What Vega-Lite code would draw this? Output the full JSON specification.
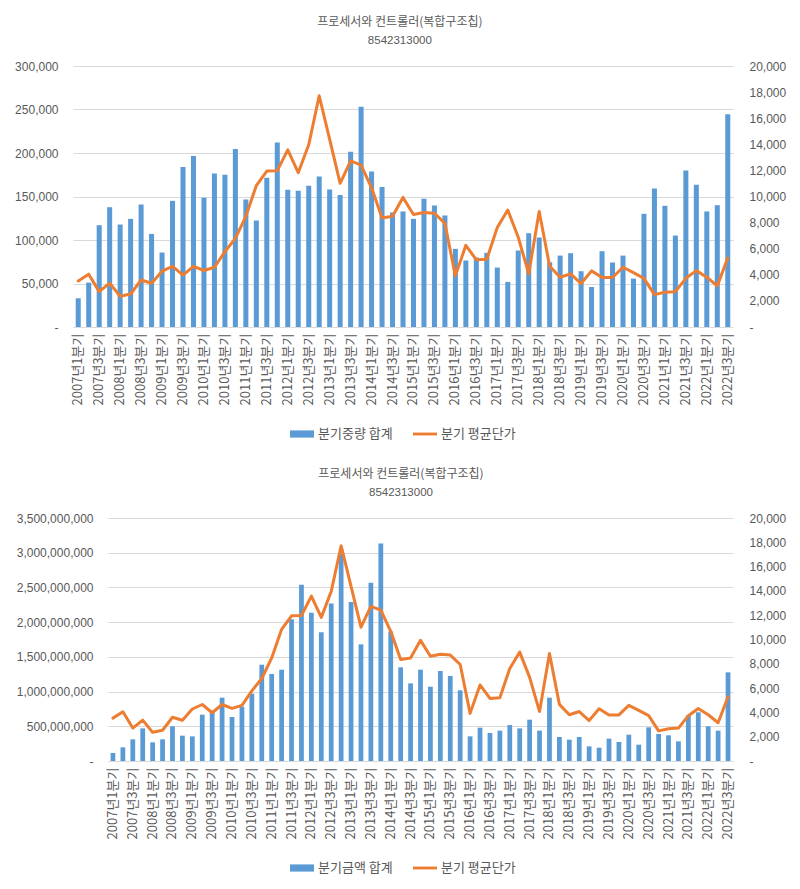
{
  "$schema": "https://vega.github.io/schema/vega-lite/v6.json",
  "background": "white",
  "padding": {"left": 14, "top": 15, "right": 10, "bottom": 5},
  "config": {
    "view": {"stroke": null},
    "font": "Noto Sans CJK KR",
    "axis": {
      "labelColor": "#595959",
      "labelFont": "Liberation Sans",
      "labelFontSize": 12,
      "ticks": false,
      "domain": false,
      "title": null,
      "gridColor": "#D9D9D9",
      "gridWidth": 1
    },
    "title": {
      "anchor": "middle",
      "frame": "bounds",
      "font": "Noto Sans CJK KR",
      "fontSize": 12,
      "fontWeight": "normal",
      "color": "#595959",
      "subtitleFont": "Liberation Sans",
      "subtitleFontSize": 11.5,
      "subtitleColor": "#595959",
      "subtitlePadding": 6,
      "offset": 13
    },
    "legend": {
      "orient": "bottom",
      "direction": "horizontal",
      "title": null,
      "labelFont": "Noto Sans CJK KR",
      "labelFontSize": 13,
      "labelColor": "#595959",
      "symbolSize": 576,
      "labelOffset": 4,
      "columnPadding": 20,
      "offset": 17,
      "layout": {"bottom": {"anchor": "middle"}}
    }
  },
  "datasets": {
    "q": [
      {"quarter": "2007년1분기", "weight": 33000, "amount": 115000000, "price": 3530},
      {"quarter": "2007년2분기", "weight": 51000, "amount": 197000000, "price": 4050},
      {"quarter": "2007년3분기", "weight": 117000, "amount": 312000000, "price": 2710},
      {"quarter": "2007년4분기", "weight": 137700, "amount": 470000000, "price": 3360},
      {"quarter": "2008년1분기", "weight": 117800, "amount": 269000000, "price": 2360},
      {"quarter": "2008년2분기", "weight": 124300, "amount": 312000000, "price": 2530},
      {"quarter": "2008년3분기", "weight": 140800, "amount": 499000000, "price": 3600},
      {"quarter": "2008년4분기", "weight": 107000, "amount": 365000000, "price": 3350},
      {"quarter": "2009년1분기", "weight": 85600, "amount": 355000000, "price": 4280},
      {"quarter": "2009년2분기", "weight": 145000, "amount": 667000000, "price": 4650},
      {"quarter": "2009년3분기", "weight": 183800, "amount": 725000000, "price": 3970},
      {"quarter": "2009년4분기", "weight": 196500, "amount": 912000000, "price": 4650},
      {"quarter": "2010년1분기", "weight": 148500, "amount": 634000000, "price": 4330},
      {"quarter": "2010년2분기", "weight": 176500, "amount": 782000000, "price": 4580},
      {"quarter": "2010년3분기", "weight": 175000, "amount": 970000000, "price": 5770},
      {"quarter": "2010년4분기", "weight": 204500, "amount": 1387000000, "price": 6790},
      {"quarter": "2011년1분기", "weight": 146600, "amount": 1253000000, "price": 8480},
      {"quarter": "2011년2분기", "weight": 122400, "amount": 1315000000, "price": 10840},
      {"quarter": "2011년3분기", "weight": 171500, "amount": 2040000000, "price": 11950},
      {"quarter": "2011년4분기", "weight": 212200, "amount": 2539000000, "price": 11980},
      {"quarter": "2012년1분기", "weight": 157700, "amount": 2136000000, "price": 13570},
      {"quarter": "2012년2분기", "weight": 156500, "amount": 1853000000, "price": 11820},
      {"quarter": "2012년3분기", "weight": 162300, "amount": 2270000000, "price": 13960},
      {"quarter": "2012년4분기", "weight": 173000, "amount": 2980000000, "price": 17720},
      {"quarter": "2013년1분기", "weight": 158100, "amount": 2290000000, "price": 14370},
      {"quarter": "2013년2분기", "weight": 151600, "amount": 1680000000, "price": 11010},
      {"quarter": "2013년3분기", "weight": 201400, "amount": 2568000000, "price": 12730},
      {"quarter": "2013년4분기", "weight": 253200, "amount": 3134000000, "price": 12410},
      {"quarter": "2014년1분기", "weight": 178800, "amount": 1867000000, "price": 10670},
      {"quarter": "2014년2분기", "weight": 160800, "amount": 1349000000, "price": 8360},
      {"quarter": "2014년3분기", "weight": 131600, "amount": 1118000000, "price": 8480},
      {"quarter": "2014년4분기", "weight": 132800, "amount": 1315000000, "price": 9930},
      {"quarter": "2015년1분기", "weight": 124300, "amount": 1070000000, "price": 8620},
      {"quarter": "2015년2분기", "weight": 147300, "amount": 1296000000, "price": 8780},
      {"quarter": "2015년3분기", "weight": 139700, "amount": 1224000000, "price": 8720},
      {"quarter": "2015년4분기", "weight": 128200, "amount": 1018000000, "price": 7940},
      {"quarter": "2016년1분기", "weight": 89800, "amount": 355000000, "price": 3920},
      {"quarter": "2016년2분기", "weight": 76400, "amount": 480000000, "price": 6260},
      {"quarter": "2016년3분기", "weight": 79800, "amount": 403000000, "price": 5150},
      {"quarter": "2016년4분기", "weight": 85200, "amount": 437000000, "price": 5200},
      {"quarter": "2017년1분기", "weight": 68300, "amount": 518000000, "price": 7620},
      {"quarter": "2017년2분기", "weight": 51800, "amount": 470000000, "price": 8960},
      {"quarter": "2017년3분기", "weight": 87900, "amount": 595000000, "price": 6880},
      {"quarter": "2017년4분기", "weight": 107800, "amount": 437000000, "price": 4070},
      {"quarter": "2018년1분기", "weight": 102800, "amount": 912000000, "price": 8850},
      {"quarter": "2018년2분기", "weight": 74400, "amount": 346000000, "price": 4660},
      {"quarter": "2018년3분기", "weight": 82100, "amount": 307000000, "price": 3810},
      {"quarter": "2018년4분기", "weight": 84800, "amount": 346000000, "price": 4070},
      {"quarter": "2019년1분기", "weight": 64100, "amount": 211000000, "price": 3330},
      {"quarter": "2019년2분기", "weight": 46000, "amount": 192000000, "price": 4300},
      {"quarter": "2019년3분기", "weight": 87100, "amount": 322000000, "price": 3790},
      {"quarter": "2019년4분기", "weight": 74100, "amount": 274000000, "price": 3790},
      {"quarter": "2020년1분기", "weight": 82100, "amount": 379000000, "price": 4580},
      {"quarter": "2020년2분기", "weight": 55600, "amount": 235000000, "price": 4170},
      {"quarter": "2020년3분기", "weight": 130100, "amount": 485000000, "price": 3730},
      {"quarter": "2020년4분기", "weight": 159200, "amount": 389000000, "price": 2480},
      {"quarter": "2021년1분기", "weight": 139300, "amount": 370000000, "price": 2660},
      {"quarter": "2021년2분기", "weight": 105100, "amount": 283000000, "price": 2710},
      {"quarter": "2021년3분기", "weight": 180000, "amount": 658000000, "price": 3730},
      {"quarter": "2021년4분기", "weight": 163500, "amount": 701000000, "price": 4320},
      {"quarter": "2022년1분기", "weight": 132800, "amount": 499000000, "price": 3810},
      {"quarter": "2022년2분기", "weight": 140000, "amount": 437000000, "price": 3150},
      {"quarter": "2022년3분기", "weight": 244400, "amount": 1277000000, "price": 5290}
    ]
  },
  "spacing": 26,
  "resolve": {
    "scale": {"color": "independent", "x": "independent"},
    "legend": {"color": "independent"}
  },
  "vconcat": [
    {
      "title": {"text": "프로세서와 컨트롤러(복합구조칩)", "subtitle": "8542313000"},
      "width": 660,
      "height": 261,
      "data": {"name": "q"},
      "encoding": {
        "x": {
          "field": "quarter",
          "type": "ordinal",
          "sort": null,
          "scale": {"paddingInner": 0.52, "paddingOuter": 0.26},
          "axis": {
            "labelAngle": -90,
            "labelFont": "Noto Sans CJK KR",
            "labelFontSize": 13,
            "labelPadding": 6,
            "labelOverlap": false,
            "values": ["2007년1분기", "2007년3분기", "2008년1분기", "2008년3분기", "2009년1분기", "2009년3분기", "2010년1분기", "2010년3분기", "2011년1분기", "2011년3분기", "2012년1분기", "2012년3분기", "2013년1분기", "2013년3분기", "2014년1분기", "2014년3분기", "2015년1분기", "2015년3분기", "2016년1분기", "2016년3분기", "2017년1분기", "2017년3분기", "2018년1분기", "2018년3분기", "2019년1분기", "2019년3분기", "2020년1분기", "2020년3분기", "2021년1분기", "2021년3분기", "2022년1분기", "2022년3분기"]
          }
        }
      },
      "layer": [
        {
          "mark": {"type": "bar"},
          "encoding": {
            "y": {
              "field": "weight",
              "type": "quantitative",
              "scale": {"domain": [0, 300000], "nice": false},
              "axis": {
                "orient": "left",
                "grid": true,
                "values": [0, 50000, 100000, 150000, 200000, 250000, 300000],
                "labelExpr": "datum.value == 0 ? '-' : format(datum.value, ',')",
                "labelPadding": 15,
                "minExtent": 59
              }
            },
            "color": {
              "datum": "분기중량 합계",
              "scale": {"domain": ["분기중량 합계", "분기 평균단가"], "range": ["#5B9BD5", "#ED7D31"]},
              "legend": {
                "encode": {
                  "symbols": {
                    "update": {
                      "shape": {"signal": "datum.value === '분기 평균단가' ? 'M-1,-0.12H1V0.12H-1Z' : 'M-1,-0.3H1V0.3H-1Z'"},
                      "fill": {"signal": "datum.value === '분기 평균단가' ? '#ED7D31' : '#5B9BD5'"},
                      "strokeWidth": {"value": 0},
                      "opacity": {"value": 1}
                    }
                  }
                }
              }
            }
          }
        },
        {
          "mark": {"type": "line", "strokeWidth": 3, "strokeJoin": "round", "strokeCap": "round"},
          "encoding": {
            "y": {
              "field": "price",
              "type": "quantitative",
              "scale": {"domain": [0, 20000], "nice": false},
              "axis": {
                "orient": "right",
                "grid": false,
                "values": [0, 2000, 4000, 6000, 8000, 10000, 12000, 14000, 16000, 18000, 20000],
                "labelExpr": "datum.value == 0 ? '-' : format(datum.value, ',')",
                "labelPadding": 16
              }
            },
            "color": {"datum": "분기 평균단가"}
          }
        }
      ],
      "resolve": {"scale": {"y": "independent"}}
    },
    {
      "title": {"text": "프로세서와 컨트롤러(복합구조칩)", "subtitle": "8542313000"},
      "width": 660,
      "height": 243,
      "data": {"name": "q"},
      "encoding": {
        "x": {
          "field": "quarter",
          "type": "ordinal",
          "sort": null,
          "scale": {"range": [35, 660], "paddingInner": 0.52, "paddingOuter": 0.26},
          "axis": {
            "labelAngle": -90,
            "labelFont": "Noto Sans CJK KR",
            "labelFontSize": 13,
            "labelPadding": 6,
            "labelOverlap": false,
            "values": ["2007년1분기", "2007년3분기", "2008년1분기", "2008년3분기", "2009년1분기", "2009년3분기", "2010년1분기", "2010년3분기", "2011년1분기", "2011년3분기", "2012년1분기", "2012년3분기", "2013년1분기", "2013년3분기", "2014년1분기", "2014년3분기", "2015년1분기", "2015년3분기", "2016년1분기", "2016년3분기", "2017년1분기", "2017년3분기", "2018년1분기", "2018년3분기", "2019년1분기", "2019년3분기", "2020년1분기", "2020년3분기", "2021년1분기", "2021년3분기", "2022년1분기", "2022년3분기"]
          }
        }
      },
      "layer": [
        {
          "mark": {"type": "bar"},
          "encoding": {
            "y": {
              "field": "amount",
              "type": "quantitative",
              "scale": {"domain": [0, 3500000000], "nice": false},
              "axis": {
                "orient": "left",
                "offset": -35,
                "grid": true,
                "values": [0, 500000000, 1000000000, 1500000000, 2000000000, 2500000000, 3000000000, 3500000000],
                "labelExpr": "datum.value == 0 ? '-' : format(datum.value, ',')",
                "labelPadding": 15
              }
            },
            "color": {
              "datum": "분기금액 합계",
              "scale": {"domain": ["분기금액 합계", "분기 평균단가"], "range": ["#5B9BD5", "#ED7D31"]},
              "legend": {
                "encode": {
                  "symbols": {
                    "update": {
                      "shape": {"signal": "datum.value === '분기 평균단가' ? 'M-1,-0.12H1V0.12H-1Z' : 'M-1,-0.3H1V0.3H-1Z'"},
                      "fill": {"signal": "datum.value === '분기 평균단가' ? '#ED7D31' : '#5B9BD5'"},
                      "strokeWidth": {"value": 0},
                      "opacity": {"value": 1}
                    }
                  }
                }
              }
            }
          }
        },
        {
          "mark": {"type": "line", "strokeWidth": 3, "strokeJoin": "round", "strokeCap": "round"},
          "encoding": {
            "y": {
              "field": "price",
              "type": "quantitative",
              "scale": {"domain": [0, 20000], "nice": false},
              "axis": {
                "orient": "right",
                "grid": false,
                "values": [0, 2000, 4000, 6000, 8000, 10000, 12000, 14000, 16000, 18000, 20000],
                "labelExpr": "datum.value == 0 ? '-' : format(datum.value, ',')",
                "labelPadding": 16
              }
            },
            "color": {"datum": "분기 평균단가"}
          }
        }
      ],
      "resolve": {"scale": {"y": "independent"}}
    }
  ]
}
